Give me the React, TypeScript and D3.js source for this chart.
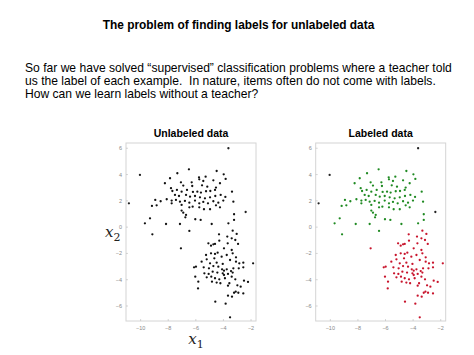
import React from "react";
import * as d3 from "d3";

const title = "The problem of finding labels for unlabeled data";
const paragraph = [
  "So far we have solved \u201csupervised\u201d classification problems where a teacher told",
  "us the label of each example.\u00a0 In nature, items often do not come with labels.",
  "How can we learn labels without a teacher?",
];
const leftTitle = "Unlabeled data";
const rightTitle = "Labeled data";
const xTicks = [-10, -8, -6, -4, -2];
const yTicks = [-6, -4, -2, 0, 2, 4, 6];
const xDomain: [number, number] = [-11.06, -1.64];
const yDomain: [number, number] = [-7.14, 6.4];

const outlierPts: [number, number][] = [
  [-10.05, 3.97], [-10.85, 1.81], [-3.64, 6.0], [-2.39, 1.15],
];

const greenPts: [number, number][] = [
  [-7.34, 4.1], [-6.5, 4.4], [-4.49, 4.27], [-3.98, 4.02], [-7.87, 3.72], [-7.08, 3.41],
  [-5.77, 3.79], [-5.29, 3.84], [-3.84, 3.67], [-8.24, 3.34], [-6.3, 3.41], [-5.75, 3.64],
  [-5.46, 3.51], [-4.73, 3.56], [-4.25, 3.34], [-6.91, 3.16], [-6.26, 3.13], [-5.55, 3.18],
  [-5.17, 3.08], [-4.54, 3.01], [-3.38, 2.7], [-7.8, 2.96], [-7.7, 2.75], [-7.37, 2.83],
  [-7.03, 2.7], [-6.64, 2.83], [-6.21, 2.68], [-5.89, 2.7], [-5.63, 2.63], [-5.26, 2.73],
  [-4.95, 2.75], [-4.61, 2.83], [-7.51, 2.45], [-7.22, 2.37], [-6.71, 2.45], [-6.42, 2.32],
  [-6.06, 2.37], [-5.7, 2.27], [-5.34, 2.19], [-4.97, 2.27], [-4.59, 2.37], [-4.2, 2.45],
  [-3.86, 2.3], [-8.94, 2.07], [-8.55, 1.97], [-8.11, 2.12], [-7.75, 2.02], [-7.44, 2.07],
  [-7.15, 1.94], [-6.79, 1.99], [-6.47, 1.86], [-6.06, 2.02], [-5.75, 1.81], [-5.46, 1.92],
  [-5.12, 1.81], [-4.73, 1.97], [-4.37, 1.86], [-4.01, 2.02], [-3.28, 1.94], [-9.18, 1.61],
  [-8.84, 1.66], [-7.75, 1.81], [-7.03, 1.69], [-6.47, 1.51], [-6.23, 1.56], [-5.75, 1.51],
  [-5.41, 1.36], [-4.97, 1.36], [-4.54, 1.66], [-4.25, 1.51], [-3.23, 0.98], [-7.03, 1.26],
  [-6.91, 1.1], [-6.71, 0.93], [-6.76, 0.75], [-9.32, 0.67], [-9.69, 0.29], [-8.16, 0.24],
  [-7.15, 0.24], [-6.04, 0.6], [-5.65, 0.55], [-3.23, 0.55], [-3.64, 0.29], [-4.85, 0.24],
  [-6.47, -0.29], [-9.15, -0.55],
];

const redPts: [number, number][] = [
  [-4.32, -0.55], [-3.33, -0.27], [-3.04, -0.52], [-3.72, -0.72], [-3.4, -0.85], [-4.3, -1.03],
  [-4.61, -1.28], [-5.09, -1.23], [-4.9, -1.41], [-4.73, -1.31], [-3.69, -1.23], [-3.14, -0.98],
  [-2.94, -1.28], [-7.08, -1.61], [-3.96, -1.61], [-3.4, -1.74], [-5.26, -2.12], [-4.9, -1.99],
  [-4.61, -2.04], [-4.42, -1.94], [-4.13, -2.25], [-3.76, -2.12], [-3.33, -1.99], [-3.09, -2.3],
  [-3.52, -2.5], [-4.66, -2.37], [-5.21, -2.45], [-5.58, -2.63], [-4.97, -2.75], [-4.49, -2.7],
  [-4.05, -2.8], [-3.09, -2.63], [-2.85, -2.75], [-2.56, -2.7], [-1.85, -2.75], [-5.99, -3.01],
  [-6.13, -3.06], [-5.43, -3.06], [-5.05, -3.13], [-4.73, -2.96], [-4.37, -3.01], [-4.1, -3.21],
  [-3.96, -3.31], [-3.76, -3.21], [-3.45, -3.34], [-3.28, -3.13], [-2.89, -3.13], [-2.56, -3.06],
  [-5.38, -3.51], [-5.07, -3.56], [-4.78, -3.39], [-4.44, -3.46], [-4.05, -3.51], [-3.96, -3.64],
  [-3.67, -3.56], [-3.33, -3.46], [-6.04, -3.77], [-5.21, -3.82], [-4.88, -3.77], [-4.61, -3.89],
  [-4.3, -3.97], [-3.89, -3.89], [-3.4, -3.77], [-3.14, -3.97], [-2.51, -4.07], [-2.22, -4.17],
  [-5.82, -4.15], [-4.83, -4.15], [-4.49, -4.22], [-4.22, -4.27], [-3.57, -4.27], [-2.99, -4.43],
  [-5.84, -4.66], [-3.67, -4.45], [-2.75, -4.53], [-3.23, -4.99], [-3.11, -4.91], [-3.67, -5.21],
  [-3.38, -5.29], [-2.92, -4.99], [-2.56, -5.04], [-4.59, -5.67], [-3.84, -5.82], [-3.52, -6.86],
];

type PanelProps = {
  left: number;
  right: number;
  top: number;
  bottom: number;
  colored: boolean;
  heading: string;
  axisLabels: boolean;
};

function Panel({ left, right, top, bottom, colored, heading, axisLabels }: PanelProps) {
  const x = d3.scaleLinear().domain(xDomain).range([left, right]);
  const y = d3.scaleLinear().domain(yDomain).range([bottom, top]);
  const groups: { pts: [number, number][]; color: string }[] = [
    { pts: greenPts, color: colored ? "#1f8a22" : "#111" },
    { pts: redPts, color: colored ? "#c8142c" : "#111" },
    { pts: outlierPts, color: "#222" },
  ];
  return (
    <g>
      <text
        x={(left + right) / 2}
        y={top - 6}
        textAnchor="middle"
        fontFamily="Liberation Sans, Arial, sans-serif"
        fontWeight="bold"
        fontSize={10.5}
        fill="#000"
      >
        {heading}
      </text>
      <rect x={left} y={top} width={right - left} height={bottom - top} fill="none" stroke="#d4d4d4" strokeWidth={1} />
      {xTicks.map((t) => (
        <g key={"x" + t}>
          <line x1={x(t)} x2={x(t)} y1={bottom} y2={bottom - 2} stroke="#bbb" strokeWidth={0.6} />
          <text x={x(t)} y={bottom + 8.5} textAnchor="middle" fontSize={5.5} fill="#888" fontFamily="Liberation Sans, Arial, sans-serif">
            {"\u2212" + Math.abs(t)}
          </text>
        </g>
      ))}
      {yTicks.map((t) => (
        <g key={"y" + t}>
          <line x1={left} x2={left + 2} y1={y(t)} y2={y(t)} stroke="#bbb" strokeWidth={0.6} />
          <text x={left - 4} y={y(t) + 2} textAnchor="end" fontSize={5.5} fill="#888" fontFamily="Liberation Sans, Arial, sans-serif">
            {t < 0 ? "\u2212" + Math.abs(t) : String(t)}
          </text>
        </g>
      ))}
      {groups.map((g, gi) =>
        g.pts.map((p, i) => (
          <circle key={gi + "-" + i} cx={x(p[0])} cy={y(p[1])} r={1.15} fill={g.color} />
        ))
      )}
      {axisLabels && (
        <g fontFamily="DejaVu Serif, Liberation Serif, serif" fontStyle="italic" fill="#222">
          <text x={left - 21} y={(top + bottom) / 2 + 5} fontSize={15}>
            x
            <tspan fontSize={11} fontStyle="normal" dy={4}>2</tspan>
          </text>
          <text x={x(-6.55)} y={bottom + 23} fontSize={15}>
            x
            <tspan fontSize={11} fontStyle="normal" dy={4}>1</tspan>
          </text>
        </g>
      )}
    </g>
  );
}

export default function App() {
  return (
    <svg
      width={474}
      height={355}
      style={{ position: "absolute", left: 0, top: 0, background: "#fff" }}
      fontFamily="Liberation Sans, Arial, sans-serif"
    >
      <rect x={0} y={0} width={474} height={355} fill="#fff" />
      <text x={238.5} y={29} textAnchor="middle" fontWeight="bold" fontSize={11.9} fill="#000">
        {title}
      </text>
      {paragraph.map((line, i) => (
        <text key={i} x={25} y={72 + i * 12.8} fontSize={12.1} fill="#000">
          {line}
        </text>
      ))}
      <Panel left={126} right={256} top={143} bottom={321} colored={false} heading={leftTitle} axisLabels={true} />
      <Panel left={315.7} right={445.7} top={143} bottom={321} colored={true} heading={rightTitle} axisLabels={false} />
    </svg>
  );
}
